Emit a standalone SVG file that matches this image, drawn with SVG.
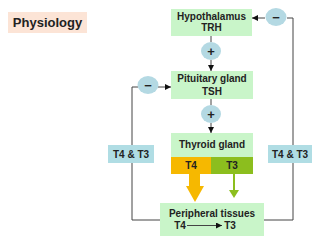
<svg xmlns="http://www.w3.org/2000/svg" width="320" height="240" viewBox="0 0 320 240">
<defs>
<style>
.box{fill:#c9f5c9}
.circ{fill:#b4d9e3}
.lab{fill:#b0dde4}
.t{font-family:"Liberation Sans",Arial,sans-serif;font-weight:bold;font-size:10px;fill:#222;text-anchor:middle}
.s{font-family:"Liberation Sans",Arial,sans-serif;font-weight:bold;font-size:13px;fill:#222;text-anchor:middle}
.ln{fill:none;stroke:#444;stroke-width:1}
</style>
<marker id="ah" viewBox="0 0 10 10" refX="10" refY="5" markerWidth="6" markerHeight="6" markerUnits="userSpaceOnUse" orient="auto">
<path d="M0,0L10,5L0,10z" fill="#111"/>
</marker>
</defs>
<rect width="320" height="240" fill="#fff"/>
<g id="title">
<rect x="8" y="12" width="79" height="21" fill="#fce4d6"/>
<text x="47.5" y="27" class="t" style="font-size:13px">Physiology</text>
</g>
<g id="connectors">
<path class="ln" d="M293,220V18H287"/>
<path class="ln" d="M265,18H252" marker-end="url(#ah)"/>
<path class="ln" d="M211,36V42"/>
<path class="ln" d="M211,60V71" marker-end="url(#ah)"/>
<path class="ln" d="M211,99V105"/>
<path class="ln" d="M211,123V133" marker-end="url(#ah)"/>
<path class="ln" d="M160,220H132V87H138"/>
<path class="ln" d="M158,87H171" marker-end="url(#ah)"/>
<path class="ln" d="M264,220H293"/>
<path d="M189,174H200V186H204L195,202L186,186H189z" fill="#f6b800"/>
<path d="M234,174V191" stroke="#8cbe1e" stroke-width="2" fill="none"/>
<path d="M229,190H239L234,198z" fill="#8cbe1e"/>
</g>
<g id="hypothalamus">
<rect class="box" x="171" y="9" width="81" height="27"/>
<text class="t" x="211.5" y="20">Hypothalamus</text>
<text class="t" x="211.5" y="31">TRH</text>
</g>
<g id="minus-top">
<ellipse class="circ" cx="276" cy="17" rx="10.5" ry="9"/>
<text class="s" x="276" y="22">−</text>
</g>
<g id="plus-top">
<ellipse class="circ" cx="211" cy="51" rx="10" ry="9"/>
<text class="s" x="211" y="56">+</text>
</g>
<g id="pituitary">
<rect class="box" x="171" y="71" width="82" height="28"/>
<text class="t" x="212" y="82">Pituitary gland</text>
<text class="t" x="212" y="95">TSH</text>
</g>
<g id="minus-left">
<ellipse class="circ" cx="148" cy="85" rx="10.5" ry="9"/>
<text class="s" x="148" y="90">−</text>
</g>
<g id="plus-mid">
<ellipse class="circ" cx="211" cy="114" rx="10" ry="9"/>
<text class="s" x="211" y="119">+</text>
</g>
<g id="thyroid">
<rect class="box" x="171" y="133" width="82" height="24"/>
<rect x="171" y="157" width="40" height="17" fill="#f6b800"/>
<rect x="211" y="157" width="42" height="17" fill="#8cbe1e"/>
<text class="t" x="212" y="148">Thyroid gland</text>
<text class="t" x="191" y="169">T4</text>
<text class="t" x="232" y="169">T3</text>
</g>
<g id="label-left">
<rect class="lab" x="108" y="145" width="46" height="18"/>
<text class="t" x="131" y="158">T4 &amp; T3</text>
</g>
<g id="label-right">
<rect class="lab" x="268" y="145" width="44" height="18"/>
<text class="t" x="290" y="158">T4 &amp; T3</text>
</g>
<g id="peripheral">
<rect class="box" x="160" y="203" width="104" height="33"/>
<text class="t" x="212" y="217">Peripheral tissues</text>
<text class="t" x="180" y="229">T4</text>
<path class="ln" d="M187,225.5H222" marker-end="url(#ah)"/>
<text class="t" x="230" y="229">T3</text>
</g>
</svg>
